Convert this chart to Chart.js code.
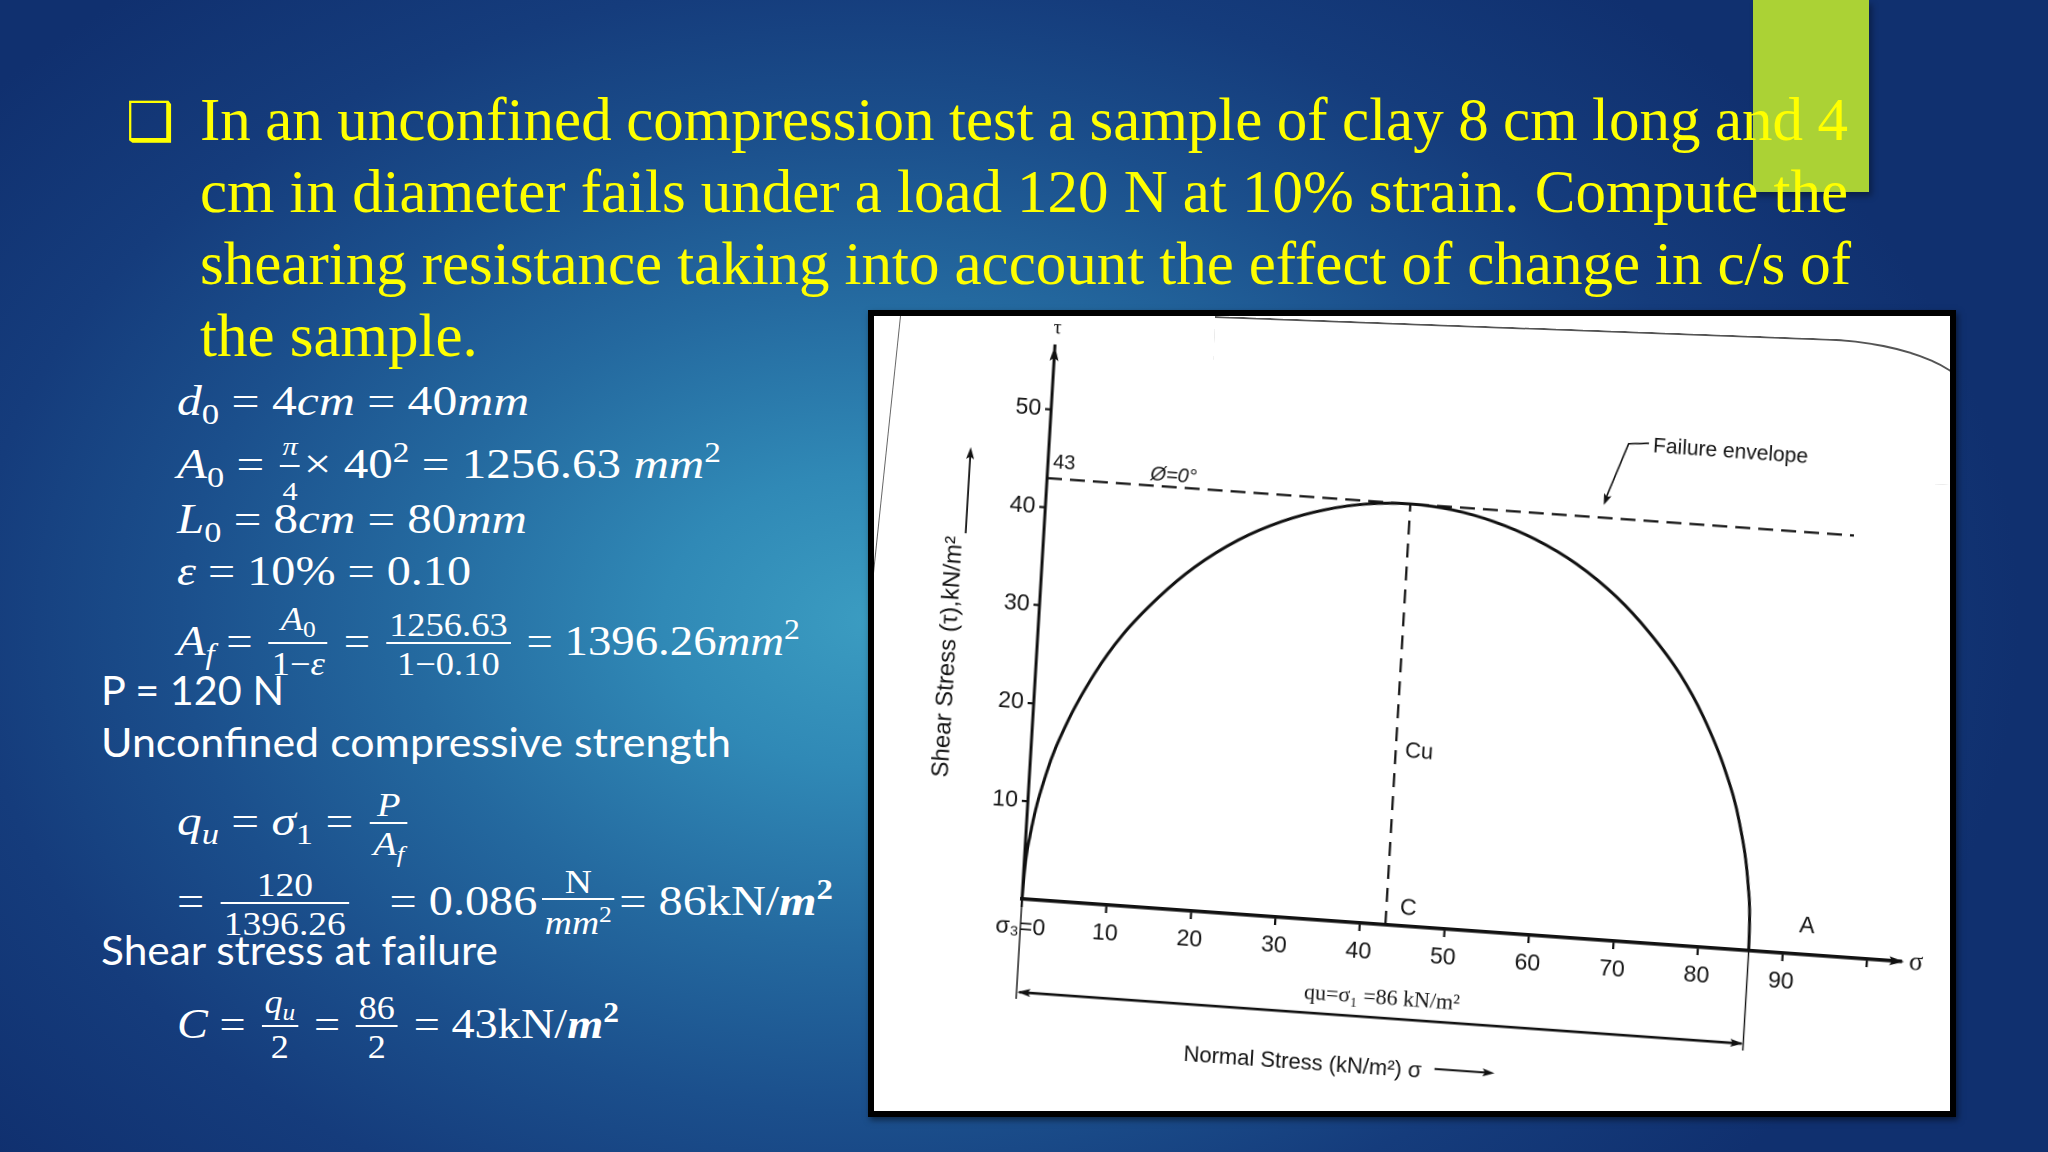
<!DOCTYPE html>
<html><head><meta charset="utf-8">
<script src="https://cdn.jsdelivr.net/npm/chart.js@4.4.1/dist/chart.umd.min.js"></script>
<style>
html,body{margin:0;padding:0;}
body{width:2048px;height:1152px;overflow:hidden;}
#slide{position:relative;width:2048px;height:1152px;overflow:hidden;
 background:radial-gradient(ellipse 1150px 820px at 870px 620px,#3b9cc1 0%,#3089b6 18%,#24699f 40%,#1b4f8c 60%,#153c7c 78%,#10306f 100%);}
#green{position:absolute;left:1753px;top:0;width:116px;height:192px;background:#abd235;box-shadow:3px 4px 6px rgba(0,0,0,0.35);}
.t{position:absolute;font-family:'Liberation Serif',serif;font-size:61px;line-height:1;color:#ffff00;white-space:nowrap;}
.bul{position:absolute;font-family:'DejaVu Sans',sans-serif;font-size:54px;line-height:1;color:#ffff00;white-space:nowrap;}
.m{position:absolute;font-family:'Liberation Serif',serif;font-size:42px;line-height:1;color:#fff;white-space:nowrap;}
.s{position:absolute;font-family:'Lato',sans-serif;font-size:40px;line-height:1;color:#fff;white-space:nowrap;}
.sub{font-size:0.7em;vertical-align:-0.3em;font-style:normal;}
i .sub{font-style:italic;}
.sup{font-size:0.68em;vertical-align:0.55em;}
.frac{display:inline-block;vertical-align:-0.6em;text-align:center;font-size:0.78em;margin:0 0.12em;}
.frac>span{display:block;line-height:1;padding:0 0.08em;}
.frac>.den{border-top:2px solid #fff;padding-top:0.12em;}
.frac.fs{font-size:0.62em;vertical-align:-0.85em;}
.frac.fs>.num{padding-bottom:0.2em;}
.frac.fs>.den{padding-top:0.45em;}
#box{position:absolute;left:868px;top:310px;width:1088px;height:807px;box-sizing:border-box;border:6px solid #000;background:#fff;overflow:hidden;box-shadow:2px 3px 6px rgba(0,0,0,0.5);}
.edgeL{position:absolute;left:26px;top:0;width:0;height:260px;border-left:1.5px solid #666;transform-origin:0 0;transform:rotate(6deg);}
.edgeT{position:absolute;left:341px;top:0;width:760px;height:140px;border-top:2px solid #555;border-right:2px solid #555;border-top-right-radius:150px 60px;transform-origin:0 0;transform:rotate(2.1deg);}
#c{position:absolute;left:0;top:0;}
</style></head>
<body>
<div id="slide">
  <div id="green"></div>
  <div class="bul" data-x="126" data-b="140">❑</div>
  <div class="t" data-x="200" data-b="140" data-r="1848" data-j="1">In an unconfined compression test a sample of clay 8 cm long and 4</div>
  <div class="t" data-x="200" data-b="212" data-r="1848" data-j="1">cm in diameter fails under a load 120 N at 10% strain. Compute the</div>
  <div class="t" data-x="200" data-b="284" data-r="1851" data-j="1">shearing resistance taking into account the effect of change in c/s of</div>
  <div class="t" data-x="200" data-b="356">the sample.</div>

  <div class="m" data-x="177" data-b="415" data-r="529"><i>d</i><span class="sub">0</span> = 4<i>cm</i> = 40<i>mm</i></div>
  <div class="m" data-x="177" data-b="478" data-r="721"><i>A</i><span class="sub">0</span> = <span class="frac fs"><span class="num"><i>π</i></span><span class="den">4</span></span>× 40<span class="sup">2</span> = 1256.63 <i>mm</i><span class="sup">2</span></div>
  <div class="m" data-x="177" data-b="533" data-r="527"><i>L</i><span class="sub">0</span> = 8<i>cm</i> = 80<i>mm</i></div>
  <div class="m" data-x="177" data-b="585" data-r="471"><i>ε</i> = 10% = 0.10</div>
  <div class="m" data-x="177" data-b="655" data-r="800"><i>A<span class="sub">f</span></i> = <span class="frac"><span class="num"><i>A</i><span class="sub">0</span></span><span class="den">1−<i>ε</i></span></span> = <span class="frac"><span class="num">1256.63</span><span class="den">1−0.10</span></span> = 1396.26<i>mm</i><span class="sup">2</span></div>
  <div class="s" data-x="101" data-b="705" data-r="284">P = 120 N</div>
  <div class="s" data-x="101" data-b="757" data-r="731">Unconfined compressive strength</div>
  <div class="m" data-x="177" data-b="835" data-r="412"><i>q<span class="sub">u</span></i> = <i>σ</i><span class="sub">1</span> = <span class="frac"><span class="num"><i>P</i></span><span class="den"><i>A<span class="sub">f</span></i></span></span></div>
  <div class="m" data-x="177" data-b="915" data-r="833">= <span class="frac"><span class="num">120</span><span class="den">1396.26</span></span>&nbsp;&nbsp; = 0.086<span class="frac"><span class="num">N</span><span class="den"><i>mm</i><span class="sup">2</span></span></span>= 86kN/<b><i>m</i><span class="sup">2</span></b></div>
  <div class="s" data-x="101" data-b="965" data-r="498">Shear stress at failure</div>
  <div class="m" data-x="177" data-b="1038" data-r="619"><i>C</i> = <span class="frac"><span class="num"><i>q<span class="sub">u</span></i></span><span class="den">2</span></span> = <span class="frac"><span class="num">86</span><span class="den">2</span></span> = 43kN/<b><i>m</i><span class="sup">2</span></b></div>

  <div id="box">
    <div class="edgeL"></div>
    <div class="edgeT"></div>
    <canvas id="c"></canvas>
  </div>
</div>
<script>
// ---------- data ----------
const circleSigma = [0, 0.1, 0.5, 2, 4, 7, 10, 14, 18, 23, 28, 33, 38, 43, 48, 53, 58, 63, 68, 72, 76, 79, 82, 84, 85.5, 85.9, 86];
const circleTau   = [0, 2.9, 6.5, 13.0, 18.1, 23.5, 27.6, 31.7, 35.0, 38.1, 40.3, 41.8, 42.7, 43, 42.7, 41.8, 40.3, 38.1, 35.0, 31.7, 27.6, 23.5, 18.1, 13.0, 6.5, 2.9, 0];
const envelopeSigma = [0, 95.5];
const envelopeTau   = [43, 43];
const cuSigma = [43, 43];
const cuTau   = [0, 43];
const quSigma = [0.3, 85.8];
const quTau   = [-9.5, -9.5];
const extLeftSigma  = [0, 0];
const extLeftTau    = [0, -10.2];
const extRightSigma = [86, 86];
const extRightTau   = [0, -10.2];
const leaderSigma = [70.7, 68.3, 66.0];
const leaderTau   = [50.9, 50.7, 45.0];
const yTitleArrowSigma = [-9.2, -9.2];
const yTitleArrowTau   = [36.8, 45.0];
const xTitleArrowSigma = [49.8, 56.4];
const xTitleArrowTau   = [-14.3, -14.3];
// arrow tips and directions (degrees, 0 = up, clockwise)
const arrowSigma = [104.4, 0, 0.1, 86, 65.8, -9.2, 56.9];
const arrowTau   = [0, 56.5, -9.5, -9.5, 44.3, 45.6, -14.3];
const arrowAngle = [90, 0, -90, 90, 198, 0, 90];
const xTickValues = [0, 10, 20, 30, 40, 50, 60, 70, 80, 90, 100];
const xTickLabels = ['σ₃=0', '10', '20', '30', '40', '50', '60', '70', '80', '90', ''];
const yTickValues = [10, 20, 30, 40, 50];
const yTickLabels = ['10', '20', '30', '40', '50'];
const labelTexts = ['τ', 'σ', '43', 'Ø=0°', 'Failure envelope', 'Cu', 'C', 'A', 'qu=σ₁ =86 kN/m²', 'Normal Stress (kN/m²) σ', 'Shear Stress (τ),kN/m²'];
const labelSigma = [0.2, 105.8, 0.6, 14.9, 71.2, 44.1, 44.6, 92.7, 43.1, 34.2, -10.4];
const labelTau   = [58.3, 0, 44.6, 44.1, 50.6, 17.8, 1.8, 2.9, -7.5, -14.7, 24.1];

// ---------- text placement ----------
function placeText(el){
  const x = +el.dataset.x, b = +el.dataset.b;
  const r = el.dataset.r ? +el.dataset.r : null;
  el.style.left = x + 'px'; el.style.top = '0px';
  const mk = document.createElement('span');
  mk.style.cssText = 'display:inline-block;width:0;height:0;vertical-align:baseline;';
  el.insertBefore(mk, el.firstChild);
  const off = mk.getBoundingClientRect().top - el.getBoundingClientRect().top;
  el.style.top = (b - off) + 'px';
  if (r !== null) {
    const w = el.getBoundingClientRect().width;
    if (el.dataset.j) {
      const n = (el.textContent.match(/ /g) || []).length;
      el.style.wordSpacing = ((r - x - w) / n) + 'px';
    } else {
      el.style.transformOrigin = '0 0';
      el.style.transform = 'scaleX(' + ((r - x) / w) + ')';
    }
  }
}

const pts = (xs, ys) => xs.map((v, i) => ({x: v, y: ys[i]}));

function lineDs(xs, ys, opts){
  return Object.assign({
    data: pts(xs, ys), showLine: true, pointRadius: 0, pointHoverRadius: 0,
    borderColor: '#111', borderWidth: 2, fill: false, clip: false
  }, opts || {});
}

const labelStyles = [
  {font: '20px "Liberation Serif"', align: 'center'},
  {font: '26px "Liberation Serif"', align: 'center'},
  {font: '20px "Liberation Sans"', align: 'left'},
  {font: 'italic 20px "Liberation Sans"', align: 'center'},
  {font: '21px "Liberation Sans"', align: 'left'},
  {font: '22px "Liberation Sans"', align: 'left'},
  {font: '23px "Liberation Sans"', align: 'left'},
  {font: '23px "Liberation Sans"', align: 'center'},
  {font: '22px "Liberation Serif"', align: 'center'},
  {font: '22px "Liberation Sans"', align: 'center'},
  {font: '24px "Liberation Sans"', align: 'center', rot: -90}
];
const arrowSizes = [[15, 4.5], [15, 4.5], [13, 4], [13, 4], [11, 4], [12, 4], [12, 4]];

const labelPlugin = {
  id: 'figLabels',
  afterDraw(chart){
    const c = chart.ctx, xs = chart.scales.x, ys = chart.scales.y;
    c.save();
    // arrowheads
    c.fillStyle = '#111';
    arrowSigma.forEach((s, i) => {
      const px = xs.getPixelForValue(s), py = ys.getPixelForValue(arrowTau[i]);
      const [len, hw] = arrowSizes[i];
      c.save();
      c.translate(px, py);
      c.rotate(arrowAngle[i] * Math.PI / 180);
      c.beginPath(); c.moveTo(0, 0); c.lineTo(-hw, len); c.lineTo(0, len * 0.8); c.lineTo(hw, len); c.closePath();
      c.fill();
      c.restore();
    });
    // text labels
    c.fillStyle = '#151515';
    c.textBaseline = 'middle';
    labelTexts.forEach((t, i) => {
      const st = labelStyles[i];
      const px = xs.getPixelForValue(labelSigma[i]);
      const py = ys.getPixelForValue(labelTau[i]);
      c.font = st.font; c.textAlign = st.align;
      if (st.rot) { c.save(); c.translate(px, py); c.rotate(st.rot * Math.PI / 180); c.fillText(t, 0, 0); c.restore(); }
      else c.fillText(t, px, py);
    });
    c.restore();
  }
};

function build(){
  document.querySelectorAll('.t,.m,.s,.bul').forEach(placeText);

  const AREA_W = 881, AREA_H = 554;
  const PAD = {left: 80, right: 40, top: 40, bottom: 130};
  const YW = 50, XH = 50;
  const canvas = document.getElementById('c');
  canvas.width = PAD.left + YW + AREA_W + PAD.right;
  canvas.height = PAD.top + AREA_H + XH + PAD.bottom;

  const chart = new Chart(canvas, {
    type: 'scatter',
    data: {datasets: [
      lineDs(circleSigma, circleTau, {borderWidth: 3, cubicInterpolationMode: 'monotone'}),
      lineDs(envelopeSigma, envelopeTau, {borderDash: [15, 8], borderWidth: 2.2}),
      lineDs(cuSigma, cuTau, {borderDash: [14, 9], borderWidth: 2.2}),
      lineDs(quSigma, quTau, {borderWidth: 2.6}),
      lineDs(extLeftSigma, extLeftTau, {borderWidth: 1.4}),
      lineDs(extRightSigma, extRightTau, {borderWidth: 1.4}),
      lineDs(leaderSigma, leaderTau, {borderWidth: 1.6}),
      lineDs(yTitleArrowSigma, yTitleArrowTau, {borderWidth: 1.8}),
      lineDs(xTitleArrowSigma, xTitleArrowTau, {borderWidth: 2})
    ]},
    options: {
      responsive: false, animation: false, devicePixelRatio: 2, events: [],
      layout: {padding: PAD},
      plugins: {legend: {display: false}, tooltip: {enabled: false}},
      scales: {
        x: {
          type: 'linear', position: 'bottom', min: 0, max: 104,
          afterFit: s => { s.height = XH; },
          afterBuildTicks: s => { s.ticks = xTickValues.map(v => ({value: v})); },
          grid: {display: true, drawOnChartArea: false, drawTicks: true, tickLength: 8, color: '#111', lineWidth: 2.2},
          border: {display: true, color: '#111', width: 3.6},
          ticks: {autoSkip: false, maxRotation: 0, minRotation: 0, padding: 7, color: '#151515',
                  font: {family: 'Liberation Sans', size: 23},
                  callback: v => xTickLabels[xTickValues.indexOf(v)]}
        },
        y: {
          type: 'linear', position: 'left', min: 0, max: 56.5,
          afterFit: s => { s.width = YW; },
          afterBuildTicks: s => { s.ticks = yTickValues.map(v => ({value: v})); },
          grid: {display: true, drawOnChartArea: false, drawTicks: true, tickLength: 6, color: '#111', lineWidth: 2.2},
          border: {display: true, color: '#111', width: 3},
          ticks: {autoSkip: false, padding: 4, color: '#151515',
                  font: {family: 'Liberation Sans', size: 23},
                  callback: v => yTickLabels[yTickValues.indexOf(v)]}
        }
      }
    },
    plugins: [labelPlugin]
  });

  // place the chart so its origin sits where the figure's origin is, tilted like the photographed page
  const ox = chart.chartArea.left, oy = chart.chartArea.bottom;
  const targetX = 147.7, targetY = 583;
  canvas.style.left = (targetX - ox) + 'px';
  canvas.style.top = (targetY - oy) + 'px';
  canvas.style.transformOrigin = ox + 'px ' + oy + 'px';
  canvas.style.transform = 'matrix(0.99748,0.07097,-0.0593,0.99824,0,0)';
}

if (document.fonts && document.fonts.ready) document.fonts.ready.then(build); else window.addEventListener('load', build);
</script>
</body></html>
